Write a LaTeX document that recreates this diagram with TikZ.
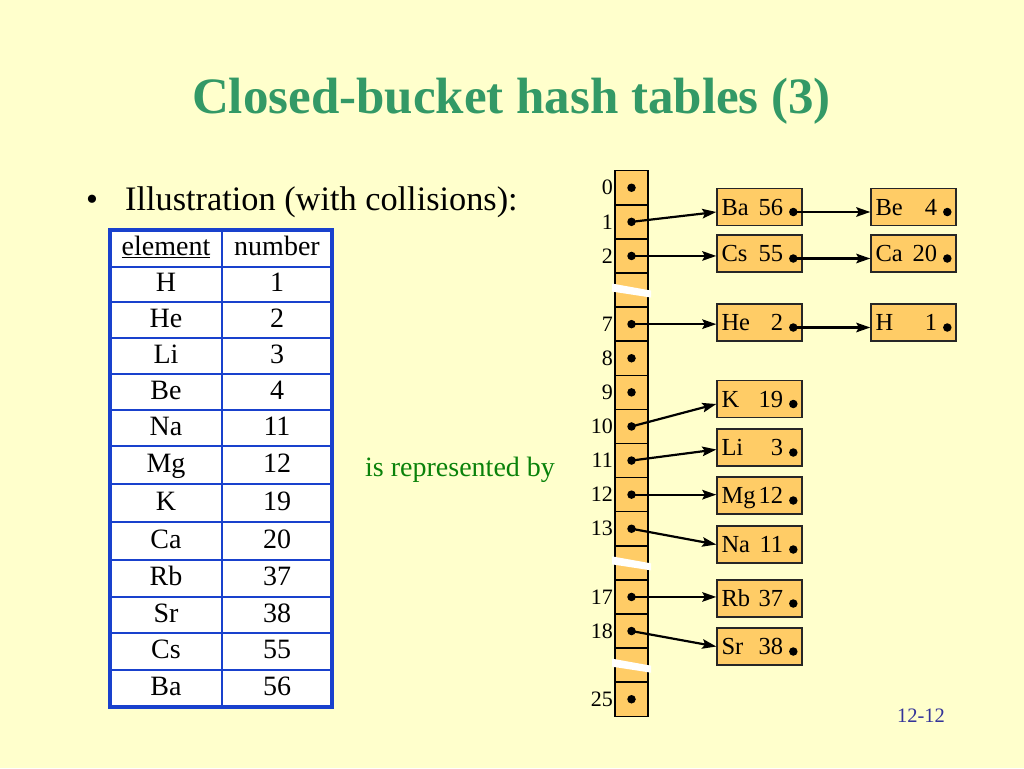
\documentclass[tikz,border=0pt]{standalone}
\usepackage{fontspec}
\setmainfont{Liberation Serif}
\usetikzlibrary{arrows.meta,calc}
\definecolor{bg}{RGB}{255,255,204}
\definecolor{titlegreen}{RGB}{51,153,102}
\definecolor{repgreen}{RGB}{10,130,10}
\definecolor{cellfill}{RGB}{255,204,102}
\definecolor{tblue}{RGB}{25,65,205}
\definecolor{pgblue}{RGB}{51,51,153}
\newcommand\hrec[5]{%
  \node[recbox] (#1) at (#2,#3) {};
  \node[rectext, anchor=base west] (#1s) at ($(#1.west)+(5,8)$) {#4};
  \node[rectext, anchor=base east] (#1n) at ($(#1.west)+(67,8)$) {#5};
  \node[ptr] (#1d) at ($(#1.west)+(77,5)$) {};
}
\begin{document}
\begin{tikzpicture}[x=1pt,y=-1pt,
  cellbox/.style={draw=black, line width=1.5pt, fill=cellfill, minimum width=33pt, minimum height=34.1pt, inner sep=0pt, outer sep=0pt},
  recbox/.style={draw=black!85, line width=1.4pt, fill=cellfill, minimum width=85pt, minimum height=37pt, inner sep=0pt},
  rectext/.style={font=\fontsize{24.5}{28}\selectfont, inner sep=0pt},
  ptr/.style={circle, fill=black, inner sep=0pt, minimum size=8.5pt},
  arr/.style={line width=2.2pt, -{Stealth[length=14pt,width=9.5pt,inset=2.5pt]}},
  idx/.style={font=\fontsize{22}{26}\selectfont, inner sep=0pt, anchor=east},
  tcell/.style={font=\fontsize{28}{32}\selectfont, inner sep=0pt, anchor=base},
]
\fill[bg] (0,0) rectangle (1024,768);
\useasboundingbox (0,0) rectangle (1024,768);

% title
\node[font=\fontsize{51}{60}\selectfont\bfseries, text=titlegreen, anchor=base, inner sep=0pt] (title) at (511.5,113) {Closed-bucket hash tables (3)};

% bullet
\node[anchor=base, font=\fontsize{34}{40}\selectfont, inner sep=0pt] (bul) at (92,210) {•};
\node[anchor=base west, font=\fontsize{34.3}{40}\selectfont, inner sep=0pt] (ill) at (125,210) {Illustration (with collisions):};

% table
\fill[white] (110,230) rectangle (332,707);
\foreach \yy in {267,302,338,374,410,446,484,522,560,597,633,670}
  \draw[tblue, line width=1.8pt] (110,\yy) -- (332,\yy);
\draw[tblue, line width=2pt] (222,230) -- (222,707);
\draw[tblue, line width=3.5pt] (110,230) rectangle (332,707);
\node[tcell] (th1) at (166,255.5) {\underline{element}};
\node[tcell] (th2) at (277,255.5) {number};
\foreach \s/\n/\c [count=\i] in {H/1/284.5, He/2/320, Li/3/356, Be/4/392, Na/11/428, Mg/12/465, K/19/503, Ca/20/541, Rb/37/578.5, Sr/38/615, Cs/55/651.5, Ba/56/688.5} {
  \node[tcell] (ts\i) at (166,\c+7) {\s};
  \node[tcell] (tn\i) at (277,\c+7) {\n};
}

\node[anchor=base west, font=\fontsize{28}{32}\selectfont, text=repgreen, inner sep=0pt] (rep) at (365,476) {is represented by};

% bucket array
\foreach \i/\lab in {0/0,1/1,2/2,4/7,5/8,6/9,7/10,8/11,9/12,10/13,12/17,13/18,15/25} {
  \node[cellbox] (c\lab) at (631.5,187.75+34.1*\i) {};
  \node[ptr] (d\lab) at (c\lab.center) {};
  \node[idx] (l\lab) at (613,187.75+34.1*\i) {\lab};
}
\foreach \i/\nm in {3/gapa,11/gapb,14/gapc} {
  \node[cellbox] (\nm) at (631.5,187.75+34.1*\i) {};
  \fill[white] (612,187.75+34.1*\i-6.5) -- (651,187.75+34.1*\i+0.5) -- (651,187.75+34.1*\i+7.5) -- (612,187.75+34.1*\i+1.5) -- cycle;
}

% records
\hrec{ba}{759.5}{207}{Ba}{56}
\hrec{be}{913.5}{207}{Be}{4}
\hrec{cs}{759.5}{253.5}{Cs}{55}
\hrec{ca}{913.5}{253.5}{Ca}{20}
\hrec{he}{759.5}{322.5}{He}{2}
\hrec{h}{913.5}{322.5}{H}{1}
\hrec{k}{759.5}{399}{K}{19}
\hrec{li}{759.5}{447.5}{Li}{3}
\hrec{mg}{759.5}{495.5}{Mg}{12}
\hrec{na}{759.5}{544.5}{Na}{11}
\hrec{rb}{759.5}{598.5}{Rb}{37}
\hrec{sr}{759.5}{646.5}{Sr}{38}

% arrows
\draw[arr] (d1.center) -- ([yshift=-5pt]ba.west);
\draw[arr] (d2.center) -- (d2.center -| cs.west);
\draw[arr] (d7.center) -- (d7.center -| he.west);
\draw[arr] (d10.center) -- ([yshift=-5pt]k.west);
\draw[arr] (d11.center) -- ([yshift=-2pt]li.west);
\draw[arr] (d12.center) -- (d12.center -| mg.west);
\draw[arr] (d13.center) -- (na.west);
\draw[arr] (d17.center) -- (d17.center -| rb.west);
\draw[arr] (d18.center) -- (sr.west);
\draw[arr] (bad.center) -- (bad.center -| be.west);
\draw[arr] (csd.center) -- (csd.center -| ca.west);
\draw[arr] (hed.center) -- (hed.center -| h.west);

\node[anchor=base, font=\fontsize{20.5}{24}\selectfont, text=pgblue, inner sep=0pt] (pg) at (921,722) {12-12};
\end{tikzpicture}
\end{document}
